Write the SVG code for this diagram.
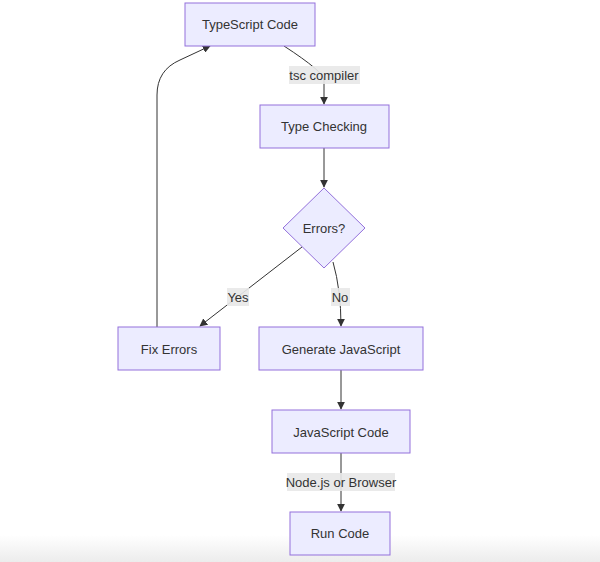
<svg xmlns="http://www.w3.org/2000/svg" width="600" height="562" viewBox="0 0 600 562">
<defs>
<linearGradient id="fade" x1="0" y1="0" x2="0" y2="1"><stop offset="0" stop-color="#ffffff"/><stop offset="1" stop-color="#ececec"/></linearGradient>
<marker id="arr" viewBox="0 0 10 10" refX="9" refY="5" markerWidth="8" markerHeight="8" orient="auto-start-reverse"><path d="M0,0 L10,5 L0,10 z" fill="#333"/></marker>
<style>
.n{fill:#ececff;stroke:#9370db;stroke-width:1}
.t{font-family:"Liberation Sans",Arial,sans-serif;font-size:13px;fill:#333;text-anchor:middle;dominant-baseline:central}
.e{fill:none;stroke:#333;stroke-width:1;marker-end:url(#arr)}
.lb{fill:#e8e8e8;opacity:0.9}
</style>
</defs>
<rect width="600" height="562" fill="#fff"/>
<rect y="535" width="600" height="27" fill="url(#fade)"/>
<g id="connectors">
<path class="e" d="M284,46 Q324,72 324,80 L324,104"/>
<path class="e" d="M324,148 L324,187"/>
<path class="e" d="M302,247 L200,326"/>
<path class="e" d="M333,262 Q341,290 341,326"/>
<path class="e" d="M157,327 L157,95 Q157,70 180,60 L210,46"/>
<path class="e" d="M341,370 L341,409"/>
<path class="e" d="M341,453 L341,511"/>
<rect class="lb" x="289" y="66" width="71" height="18"/><text class="t" x="324" y="75">tsc compiler</text>
<rect class="lb" x="227" y="288" width="22" height="18"/><text class="t" x="238" y="297">Yes</text>
<rect class="lb" x="331" y="288" width="19" height="18"/><text class="t" x="340" y="297">No</text>
<rect class="lb" x="287" y="473" width="108" height="18"/><text class="t" x="341" y="482">Node.js or Browser</text>
</g>
<g id="ts"><rect class="n" x="185" y="3" width="130" height="43"/><text class="t" x="250" y="24">TypeScript Code</text></g>
<g id="tc"><rect class="n" x="260" y="105" width="129" height="43"/><text class="t" x="324" y="126">Type Checking</text></g>
<g id="err"><polygon class="n" points="324,188 365,228 324,268 283,228"/><text class="t" x="324" y="228">Errors?</text></g>
<g id="fix"><rect class="n" x="118" y="327" width="102" height="43"/><text class="t" x="169" y="349">Fix Errors</text></g>
<g id="gen"><rect class="n" x="259" y="327" width="164" height="43"/><text class="t" x="341" y="349">Generate JavaScript</text></g>
<g id="js"><rect class="n" x="272" y="410" width="138" height="43"/><text class="t" x="341" y="432">JavaScript Code</text></g>
<g id="run"><rect class="n" x="290" y="512" width="100" height="43"/><text class="t" x="340" y="533">Run Code</text></g>
</svg>
